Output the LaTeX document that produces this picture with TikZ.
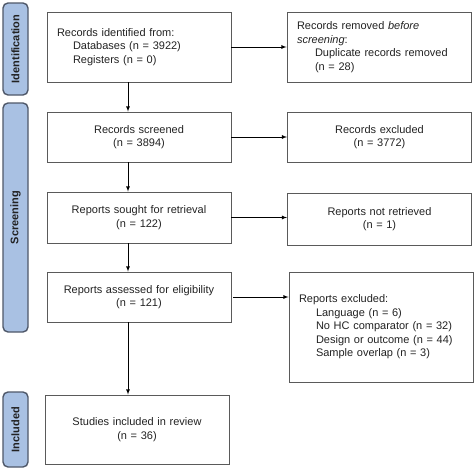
\documentclass[tikz,border=0pt]{standalone}
\usepackage{fontspec}
\setmainfont{Liberation Sans}
\usetikzlibrary{arrows,positioning}
\definecolor{stagefill}{HTML}{A9C1E3}
\definecolor{stageline}{HTML}{4F5869}
\definecolor{boxline}{HTML}{5A5A5A}
\definecolor{inktext}{HTML}{222222}

\begin{document}
\begin{tikzpicture}
[x=1pt,y=-1pt,font=\fontsize{11}{13.5}\selectfont,text=inktext]
\tikzset{
	box/.style = {draw=boxline, line width=0.9pt, minimum width=184pt, inner xsep=10pt, text width=164pt},
	stage/.style = {draw=stageline, fill=stagefill, line width=1.4pt, rounded corners=5pt, rotate=90, minimum height=25pt, font=\fontsize{11}{13}\selectfont\bfseries},
	flow/.style = {-latex, draw=black, line width=0.8pt}
}
\useasboundingbox (0,0) rectangle (474,469);

% stages
\node(idstage) [stage, minimum width=92pt] at (15.5,49) {Identification};
\node(scstage) [stage, minimum width=229pt] at (15.5,217.5) {Screening};
\node(instage) [stage, minimum width=75pt] at (15.5,429.5) {Included};

% main column
\node(ident) [box, minimum height=70pt, align=left] at (139,47) {Records identified from:\\
	\hspace*{16pt}Databases (n = 3922)\\
	\hspace*{16pt}Registers (n = 0)};
\node(screened) [box, minimum height=50pt, align=center] at (139,137) {Records screened\\(n = 3894)};
\node(sought) [box, minimum height=51pt, align=center] at (139,217.5) {Reports sought for retrieval\\(n = 122)};
\node(assessed) [box, minimum height=50pt, align=center] at (139,297) {Reports assessed for eligibility\\(n = 121)};
\node(studies) [box, minimum height=69pt, align=center] at (137,429.5) {Studies included in review\\(n = 36)\\[18pt]};

% side column
\node(removed) [box, minimum height=70pt, align=left] at (379,47) {Records removed \textit{before}\\
	\textit{screening}:\\
	\hspace*{18pt}Duplicate records removed\\
	\hspace*{18pt}(n = 28)\\[6pt]};
\node(excluded) [box, minimum height=50pt, align=center] at (379.5,137) {Records excluded\\(n = 3772)};
\node(notretr) [box, minimum height=52pt, align=center] at (379.5,219) {Reports not retrieved\\(n = 1)};
\node(repexcl) [box, minimum height=110pt, align=left] at (381,327) {Reports excluded:\\
	\hspace*{17pt}Language (n = 6)\\
	\hspace*{17pt}No HC comparator (n = 32)\\
	\hspace*{17pt}Design or outcome (n = 44)\\
	\hspace*{17pt}Sample overlap (n = 3)};

\coordinate(spine) at (128,0);

\draw [flow] (ident.south -| spine) -- (screened.north -| spine);
\draw [flow] (screened.south -| spine) -- (sought.north -| spine);
\draw [flow] (sought.south -| spine) -- (assessed.north -| spine);
\draw [flow] (assessed.south -| spine) -- (studies.north -| spine);

\draw [flow] (ident.east) -- (ident.east -| removed.west);
\draw [flow] (screened.east) -- (screened.east -| excluded.west);
\draw [flow] (sought.east) -- (sought.east -| notretr.west);
\draw [flow] ([xshift=2pt]assessed.east) -- (assessed.east -| repexcl.west);

\end{tikzpicture}
\end{document}
